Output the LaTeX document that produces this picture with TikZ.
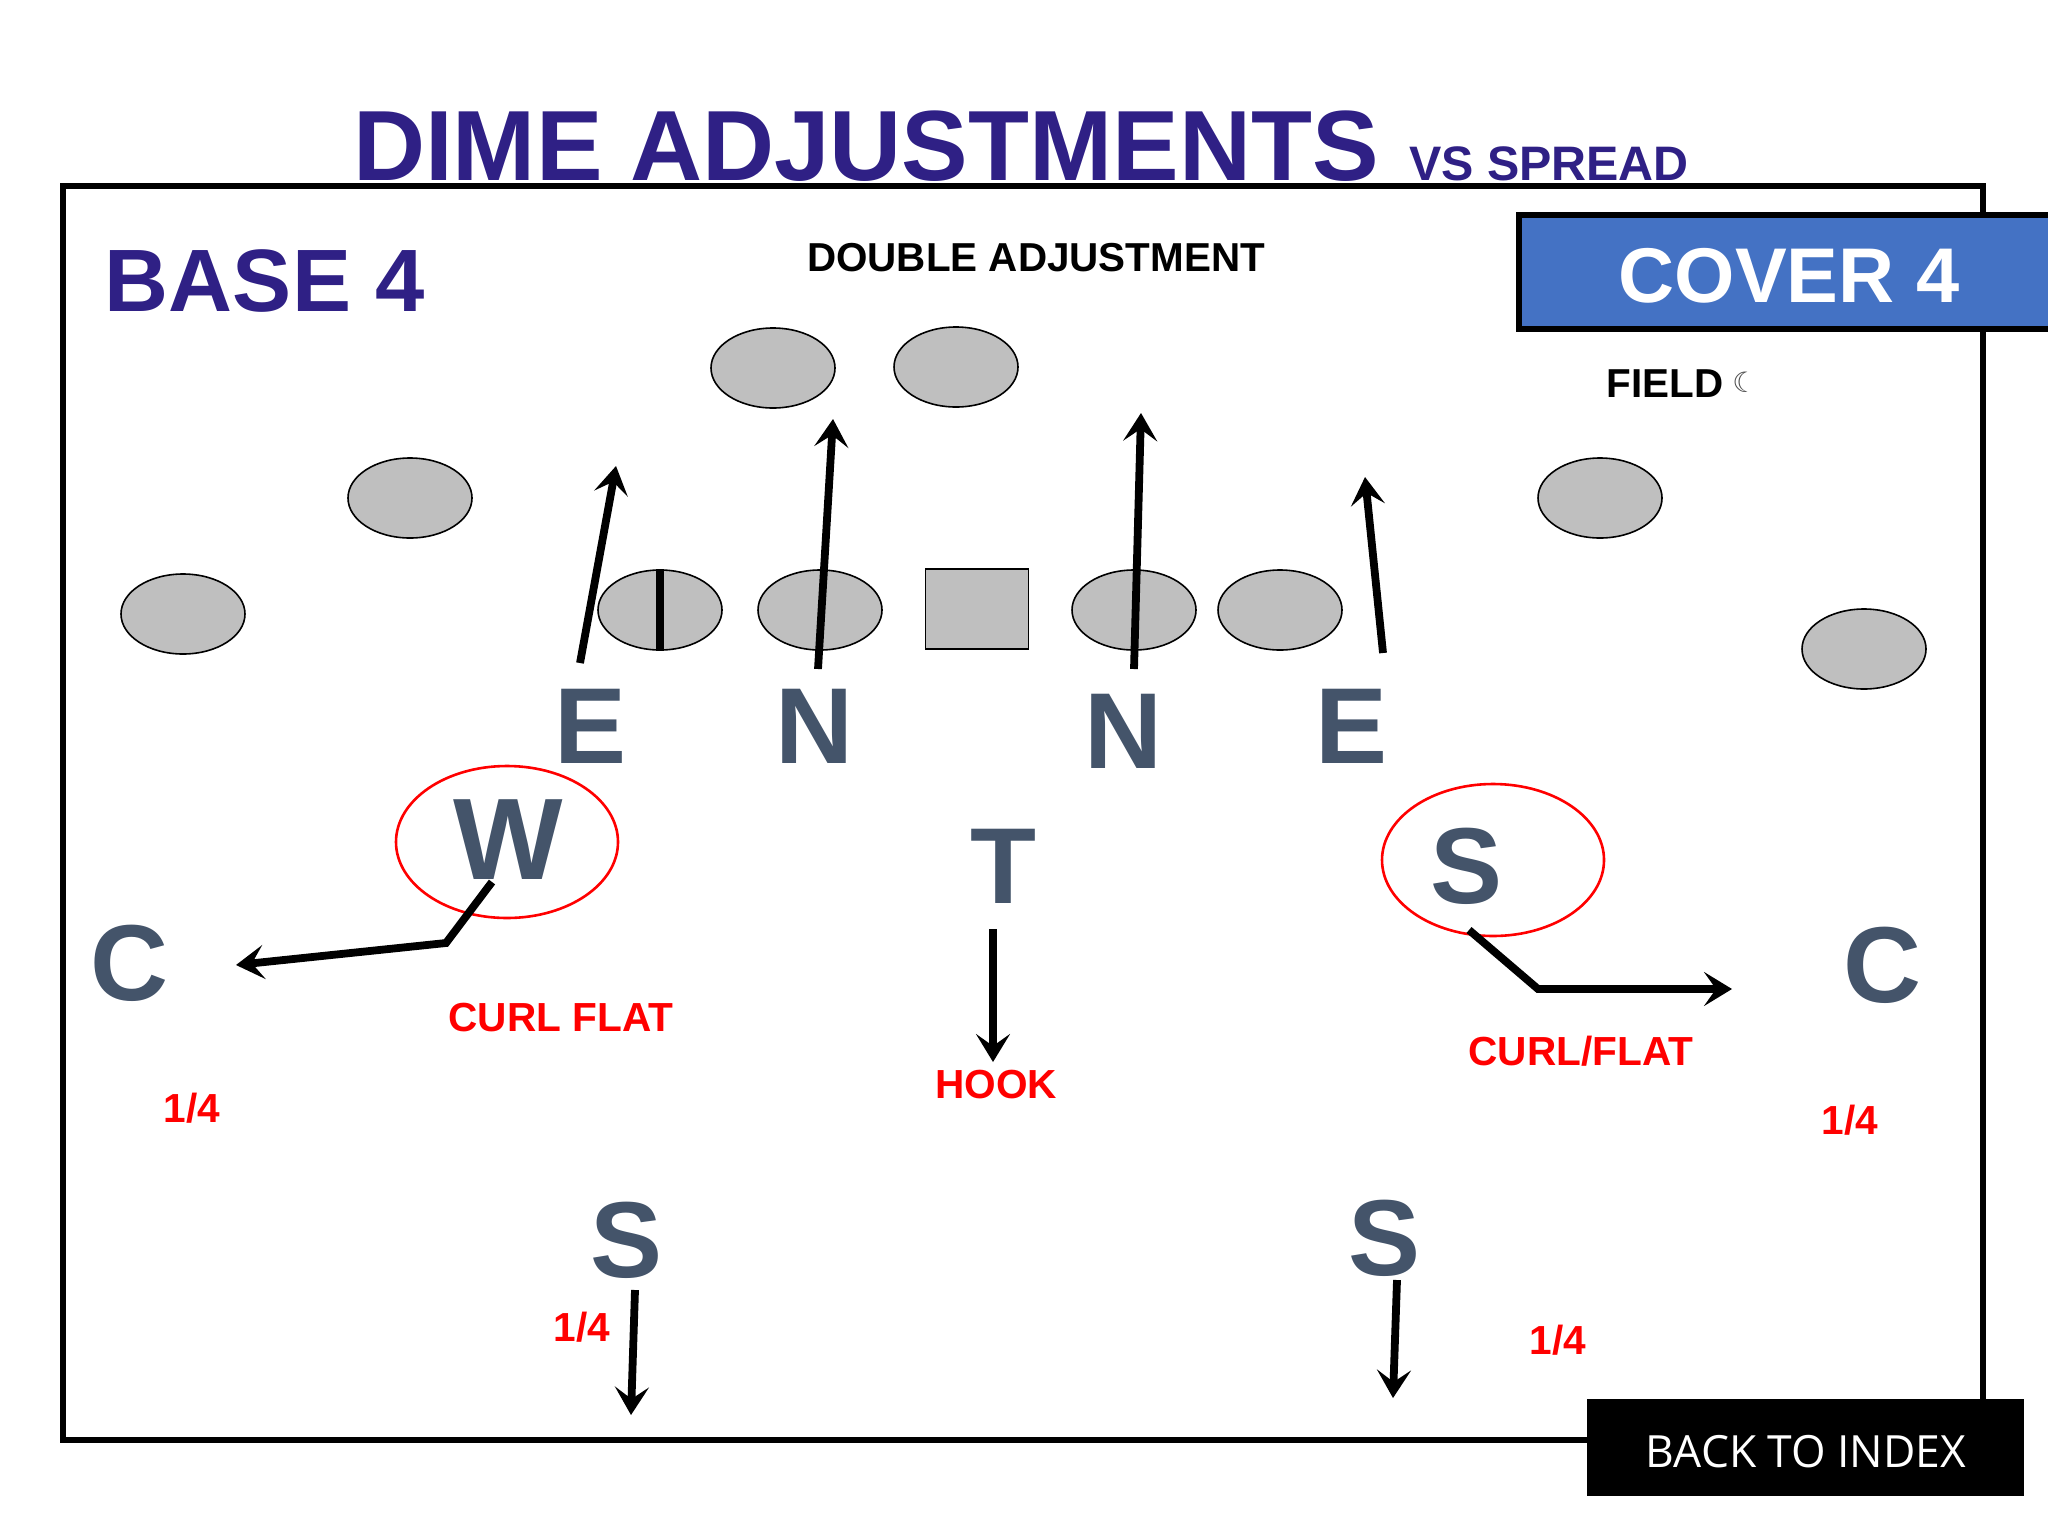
\documentclass[tikz,border=0pt]{standalone}
\usepackage{fontspec}
\setmainfont{Liberation Sans}
\newfontfamily\indexfont{Open Sans}
\newfontfamily\moonfont{DejaVu Sans}
\usetikzlibrary{arrows.meta,shapes.geometric}
\definecolor{titleblue}{HTML}{2F2085}
\definecolor{coverblue}{HTML}{4472C4}
\definecolor{slate}{HTML}{44546A}
\definecolor{playergray}{HTML}{BFBFBF}
\tikzset{
  player/.style={ellipse, draw=black, fill=playergray, line width=.8pt, minimum width=62pt, minimum height=40pt, inner sep=0pt},
  letter/.style={text=slate, font=\fontsize{54}{54}\selectfont\bfseries, inner sep=0pt},
  tag/.style={text=red, font=\fontsize{20.3}{20.3}\selectfont\bfseries, inner sep=0pt},
  blackword/.style={font=\fontsize{20.2}{20.2}\selectfont\bfseries, inner sep=0pt},
  zone/.style={ellipse, draw=red, line width=1.3pt, minimum width=111pt, minimum height=76pt, inner sep=0pt},
  route/.style={line width=3.9pt, -{Stealth[length=14pt,width=17pt,inset=6pt]}},
}
\begin{document}
\begin{tikzpicture}[x=.5pt,y=-.5pt]
\useasboundingbox (0,0) rectangle (2048,1536);
\node (frame) [draw, line width=3pt, minimum width=960pt, minimum height=627pt, inner sep=0pt] at (1023,813) {};
% heading
\node (title) [text=titleblue, font=\fontsize{49.9}{49.9}\selectfont\bfseries, inner sep=0pt] at (866,146) {DIME ADJUSTMENTS};
\node (vs) [text=titleblue, font=\fontsize{24.2}{24.2}\selectfont\bfseries, inner sep=0pt] at (1549,164) {VS SPREAD};
\node (base) [text=titleblue, font=\fontsize{44.3}{44.3}\selectfont\bfseries, inner sep=0pt] at (265,281) {BASE 4};
\node (double) [blackword] at (1036,258) {DOUBLE ADJUSTMENT};
\node (cover) [draw, fill=coverblue, line width=3pt, anchor=west, minimum width=290pt, minimum height=57pt, inner sep=0pt] at (1516,272) {};
\node (covertext) [text=white, font=\fontsize{38.8}{38.8}\selectfont\bfseries, inner sep=0pt] at (1789,276) {COVER 4};
\node (field) [blackword] at (1665,384) {FIELD};
\node (moon) [text=black!70, font=\moonfont\fontsize{14}{14}\selectfont, inner sep=0pt] at (1745,382) {☾};
\node (back) [fill=black, minimum width=218.5pt, minimum height=48.5pt, inner sep=0pt] at (1805.5,1447.5) {};
\node (backtext) [text=white, font=\indexfont\fontsize{22.2}{22.2}\selectfont, inner sep=0pt] at (1806,1452) {BACK TO INDEX};
% offense
\node (qbl) [player] at (773,368) {};
\node (qbr) [player] at (956,367) {};
\node (wrl) [player] at (410,498) {};
\node (wbl) [player] at (183,614) {};
\node (tl) [player] at (660,610) {};
\node (gl) [player] at (820,610) {};
\node (ctr) [draw=black, fill=playergray, line width=.8pt, minimum width=51.5pt, minimum height=40pt, inner sep=0pt] at (977,609) {};
\node (gr) [player] at (1134,610) {};
\node (tr) [player] at (1280,610) {};
\node (wrr) [player] at (1600,498) {};
\node (wbr) [player] at (1864,649) {};
% defense
\node (e1) [letter] at (591,726) {E};
\node (n1) [letter] at (814,726) {N};
\node (n2) [letter] at (1123,731) {N};
\node (e2) [letter] at (1351,726) {E};
\node (w) [letter, font=\fontsize{58}{58}\selectfont\bfseries] at (508,840) {W};
\node (t) [letter] at (1003,866) {T};
\node (s) [letter] at (1466,866) {S};
\node (c1) [letter] at (129,963) {C};
\node (c2) [letter] at (1882,965) {C};
\node (s1) [letter] at (627,1240) {S};
\node (s2) [letter] at (1384,1238) {S};
\node (wzone) [zone] at (507,842) {};
\node (szone) [zone] at (1493,860) {};
\node (curlw) [tag] at (561,1018) {CURL FLAT};
\node (curls) [tag] at (1581,1051) {CURL/FLAT};
\node (hook) [tag] at (996,1085) {HOOK};
\node (qa) [tag] at (192,1108) {1/4};
\node (qb) [tag] at (1850,1120) {1/4};
\node (qc) [tag] at (582,1327) {1/4};
\node (qd) [tag] at (1558,1340) {1/4};
% routes
\coordinate (e1a) at (580,663);
\coordinate (e1b) at (616,466);
\coordinate (n1a) at (818,669);
\coordinate (n1b) at (833,419);
\coordinate (n2a) at (1134,669);
\coordinate (n2b) at (1141,413);
\coordinate (e2a) at (1383,653);
\coordinate (e2b) at (1365,477);
\coordinate (ta) at (993,929);
\coordinate (tb) at (993,1062);
\coordinate (s1a) at (635,1290);
\coordinate (s1b) at (631,1415);
\coordinate (s2a) at (1397,1280);
\coordinate (s2b) at (1393,1398);
\coordinate (wa) at (492,882);
\coordinate (wm) at (446,943);
\coordinate (wb) at (236,965);
\coordinate (sa) at (1469,930);
\coordinate (sm) at (1538,989);
\coordinate (sb) at (1732,989);
\path[route]
  (e1a) edge (e1b)
  (n1a) edge (n1b)
  (n2a) edge (n2b)
  (e2a) edge (e2b)
  (ta) edge (tb)
  (s1a) edge (s1b)
  (s2a) edge (s2b);
\draw[route] (wa) -- (wm) -- (wb);
\draw[route] (sa) -- (sm) -- (sb);
\draw[line width=3.6pt] (tl.north) -- (tl.south);
\end{tikzpicture}
\end{document}
